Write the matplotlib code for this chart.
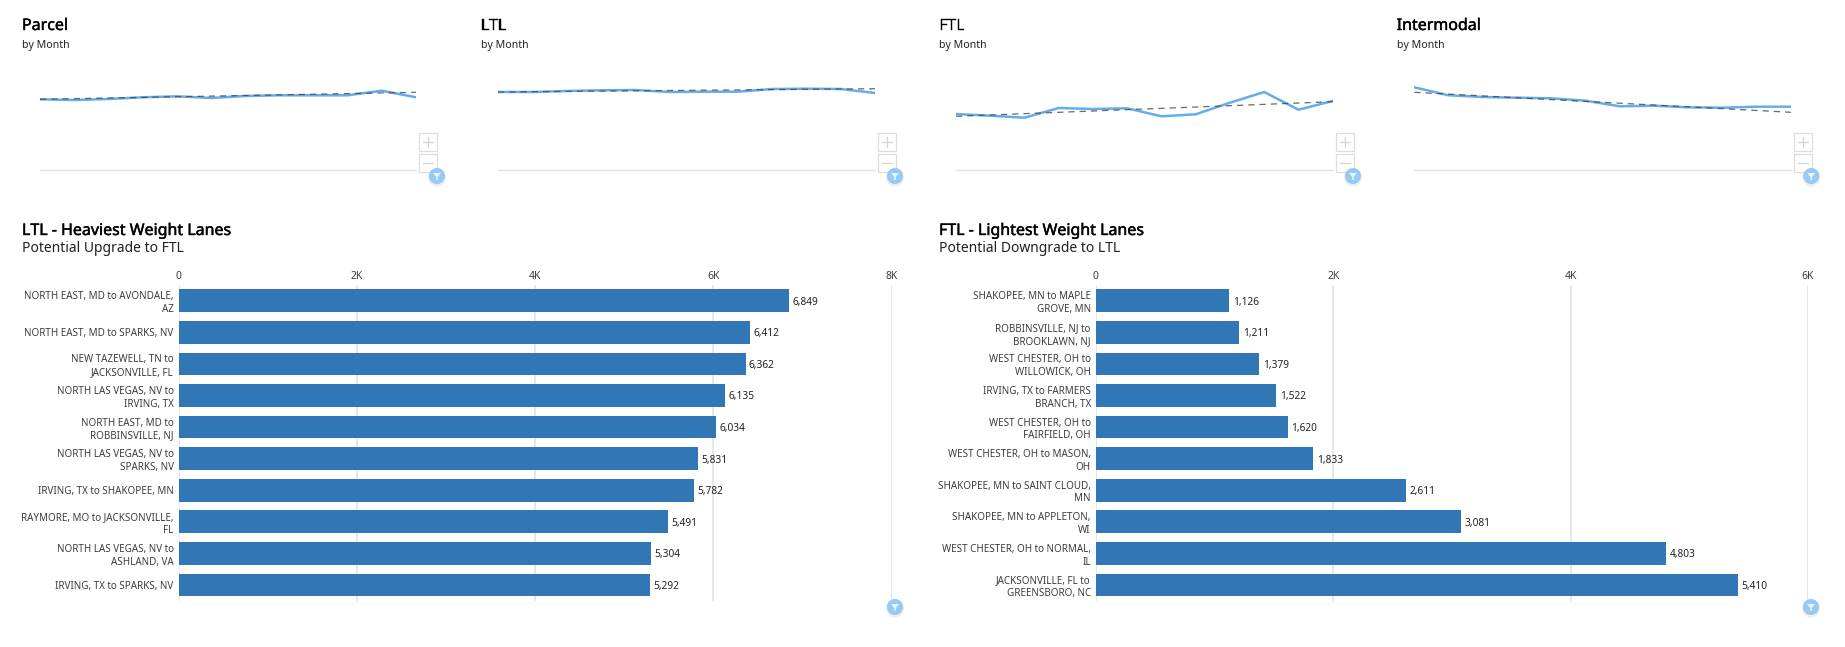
import matplotlib
matplotlib.use('Agg')
import matplotlib.pyplot as plt
import matplotlib.patheffects as pe
from matplotlib.patches import Circle, Polygon, Rectangle

W, H = 1845, 647
plt.rcParams['font.family'] = ['Noto Sans', 'DejaVu Sans']

# Monthly series for the small charts
parcel = [70.7, 70, 71, 72.7, 73.7, 72, 74, 74.7, 74.7, 74.7, 79.3, 72.7]
ltl = [78, 78, 79, 79.7, 80, 78, 78.3, 78.3, 81, 81.3, 81, 77]
ftl = [56, 54.3, 52.3, 62, 61, 61.7, 53.7, 55.7, 67.3, 78, 60.3, 69]
intermodal = [82.7, 74.7, 73, 72.3, 71.7, 69.3, 63.7, 64.3, 62.7, 62.3, 63.3, 63.3]

# Trend line end points
parcel_trend = [70.7, 77.7]
ltl_trend = [78, 81.3]
ftl_trend = [53.7, 68.3]
intermodal_trend = [77.7, 57.7]

spark_titles = ['Parcel', 'LTL', 'FTL', 'Intermodal']
spark_series = [parcel, ltl, ftl, intermodal]
spark_trends = [parcel_trend, ltl_trend, ftl_trend, intermodal_trend]

# Heaviest / lightest lanes
heavy_lanes = ['NORTH EAST, MD to AVONDALE,\nAZ', 'NORTH EAST, MD to SPARKS, NV',
               'NEW TAZEWELL, TN to\nJACKSONVILLE, FL', 'NORTH LAS VEGAS, NV to\nIRVING, TX',
               'NORTH EAST, MD to\nROBBINSVILLE, NJ', 'NORTH LAS VEGAS, NV to\nSPARKS, NV',
               'IRVING, TX to SHAKOPEE, MN', 'RAYMORE, MO to JACKSONVILLE,\nFL',
               'NORTH LAS VEGAS, NV to\nASHLAND, VA', 'IRVING, TX to SPARKS, NV']
heavy_values = [6849, 6412, 6362, 6135, 6034, 5831, 5782, 5491, 5304, 5292]

light_lanes = ['SHAKOPEE, MN to MAPLE\nGROVE, MN', 'ROBBINSVILLE, NJ to\nBROOKLAWN, NJ',
               'WEST CHESTER, OH to\nWILLOWICK, OH', 'IRVING, TX to FARMERS\nBRANCH, TX',
               'WEST CHESTER, OH to\nFAIRFIELD, OH', 'WEST CHESTER, OH to MASON,\nOH',
               'SHAKOPEE, MN to SAINT CLOUD,\nMN', 'SHAKOPEE, MN to APPLETON,\nWI',
               'WEST CHESTER, OH to NORMAL,\nIL', 'JACKSONVILLE, FL to\nGREENSBORO, NC']
light_values = [1126, 1211, 1379, 1522, 1620, 1833, 2611, 3081, 4803, 5410]

LINE = '#66ace9'
BAR = '#3176b5'
GRID = '#e2e2e2'
TXT = '#3c3c3c'
# no semibold face is installed, so thicken the regular one a little
HEAVY = [pe.withStroke(linewidth=0.3, foreground='#000000')]


def px_axes(fig, x0, x1, y0, y1):
    # axes placed by pixel box, y measured from the top
    return fig.add_axes([x0 / W, 1 - y1 / H, (x1 - x0) / W, (y1 - y0) / H])


fig = plt.figure(figsize=(W / 100, H / 100), dpi=100, facecolor='white')

# Overlay in pixel coordinates for titles and widgets
ov = fig.add_axes([0, 0, 1, 1], zorder=5)
ov.set_xlim(0, W)
ov.set_ylim(H, 0)
ov.axis('off')


def filter_button(cx, cy):
    ov.add_patch(Circle((cx, cy + 1.5), 9, fc='#000000', alpha=0.07, ec='none'))
    ov.add_patch(Circle((cx, cy), 8, fc='#94caf3', ec='none'))
    ov.add_patch(Polygon([(cx - 4, cy - 3), (cx + 4, cy - 3), (cx + 0.8, cy + 1), (cx + 0.8, cy + 4),
                          (cx - 0.8, cy + 4), (cx - 0.8, cy + 1)], closed=True,
                         fc='#e8f4fd', ec='none'))


def zoom_buttons(x):
    for top, horiz_only in [(132.5, False), (154, True)]:
        ov.add_patch(Rectangle((x, top), 18, 18, fc='none', ec='#dddddd', lw=0.9))
        cx, cy = x + 9, top + 9
        ov.plot([cx - 5, cx + 5], [cy, cy], color='#d5d5d5', lw=0.9)
        if not horiz_only:
            ov.plot([cx, cx], [cy - 5, cy + 5], color='#d5d5d5', lw=0.9)


spark_boxes = [(40, 416), (498, 875), (956, 1332.7), (1414.3, 1791)]
title_x = [22, 480.7, 939, 1396.7]
button_x = [437, 895, 1353, 1811.3]
zoom_x = [419, 878, 1336, 1794]

for i in range(4):
    x0, x1 = spark_boxes[i]
    ax = px_axes(fig, x0, x1, 50, 170)
    months = list(range(12))
    ax.plot(months, spark_series[i], color=LINE, lw=1.8, solid_joinstyle='round')
    ax.plot([0, 11], spark_trends[i], color='#444444', lw=0.9, dashes=(5, 4), alpha=0.8)
    ax.set_xlim(0, 11)
    ax.set_ylim(0, 120)
    ax.set_xticks([])
    ax.set_yticks([])
    for s in ['top', 'left', 'right']:
        ax.spines[s].set_visible(False)
    ax.spines['bottom'].set_color(GRID)
    ax.spines['bottom'].set_linewidth(1)
    ax.patch.set_alpha(0)

    ov.text(title_x[i], 30, spark_titles[i], fontsize=11.5, color='#000000', path_effects=HEAVY)
    ov.text(title_x[i], 48, 'by Month', fontsize=7.6, color='#222222')
    zoom_buttons(zoom_x[i])
    filter_button(button_x[i], 176)


def lane_chart(x0, x1, lanes, values, xmax, ticks, tick_labels):
    ax = px_axes(fig, x0, x1, 285, 600.7)
    pos = list(range(len(lanes)))
    ax.barh(pos, values, height=0.72, color=BAR, zorder=2)
    ax.set_ylim(len(lanes) - 0.5, -0.5)
    ax.set_xlim(0, xmax)
    ax.set_yticks(pos)
    ax.set_yticklabels(lanes, fontsize=7.1, color=TXT, linespacing=1.22, ma='right')
    ax.xaxis.tick_top()
    ax.set_xticks(ticks)
    ax.set_xticklabels(tick_labels, fontsize=7.4, color=TXT)
    ax.tick_params(axis='y', length=0, pad=3.5)
    ax.tick_params(axis='x', length=0, pad=2)
    ax.grid(axis='x', color=GRID, lw=1.2, zorder=1)
    ax.set_axisbelow(True)
    for s in ax.spines.values():
        s.set_visible(False)
    for p, v in zip(pos, values):
        ax.annotate(f'{v:,}', (v, p), xytext=(2.5, -1), textcoords='offset points',
                    va='center', ha='left', fontsize=7.3, color='#222222', zorder=3)
    return ax


lane_chart(178.5, 891.5, heavy_lanes, heavy_values, 8000, [0, 2000, 4000, 6000, 8000],
           ['0', '2K', '4K', '6K', '8K'])
lane_chart(1095.7, 1808, light_lanes, light_values, 6000, [0, 2000, 4000, 6000],
           ['0', '2K', '4K', '6K'])

ov.text(22, 235, 'LTL - Heaviest Weight Lanes', fontsize=11.5, color='#000000', path_effects=HEAVY)
ov.text(22, 252, 'Potential Upgrade to FTL', fontsize=10, color='#222222')
ov.text(939, 235, 'FTL - Lightest Weight Lanes', fontsize=11.5, color='#000000', path_effects=HEAVY)
ov.text(939, 252, 'Potential Downgrade to LTL', fontsize=10, color='#222222')
filter_button(895, 607)
filter_button(1811, 607)

fig.savefig('out.png', dpi=100)
